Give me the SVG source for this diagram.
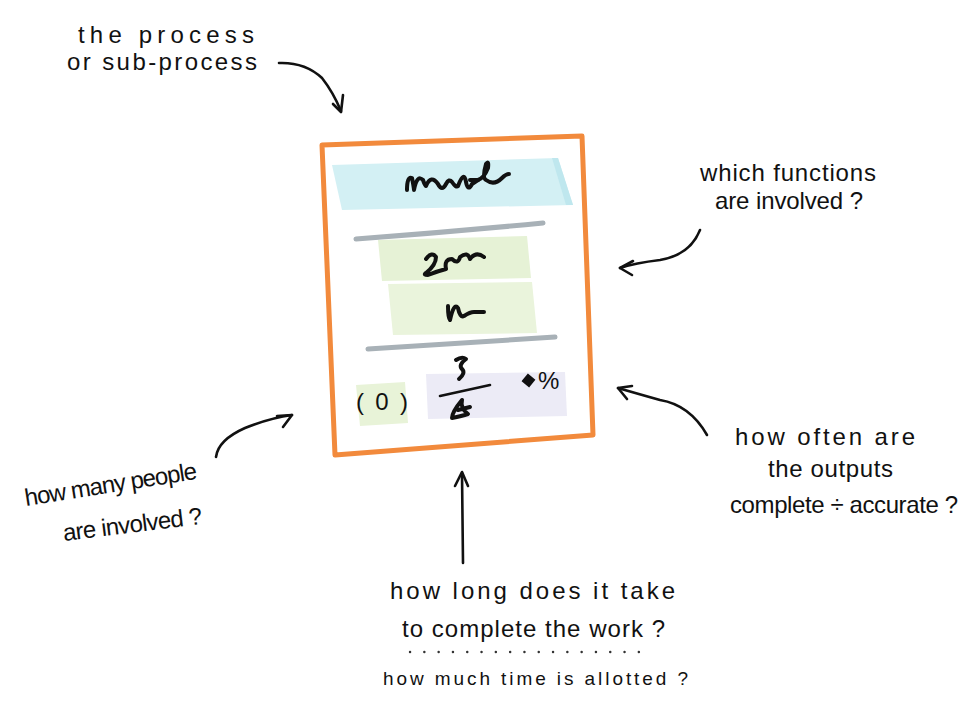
<svg xmlns="http://www.w3.org/2000/svg" width="980" height="703" viewBox="0 0 980 703">
<style>
.t{font-family:"Liberation Sans","DejaVu Sans",sans-serif;font-size:24px;fill:#111;}
.s{font-size:19px;}
.conn{fill:none;stroke:#111;stroke-width:2.6;stroke-linecap:round;stroke-linejoin:round;}
.scr{fill:none;stroke:#111;stroke-width:4;stroke-linecap:round;stroke-linejoin:round;}
.rule{fill:none;stroke:#a8b1b7;stroke-width:5;stroke-linecap:round;}
</style>
<rect width="980" height="703" fill="#fff"/>

<g id="card">
  <path d="M322,145 L582,136 L593,435 L335,455 Z" fill="#fff" stroke="#f28a3c" stroke-width="5" stroke-linejoin="round"/>
  <path d="M332,165 L558,158 L573,205 L342,210 Z" fill="#d3f0f4"/>
  <path d="M552,158 L558,158 L573,205 L566,205 Z" fill="#bfe7ee"/>
  <path d="M407,190 q0,-14 5,-12 q2,10 2,12 q3,-16 9,-10 q2,6 3,6 q5,-12 12,-2 q4,8 8,0 q3,-6 6,-2 q4,6 6,4 q6,-16 8,-4 q2,10 6,2 l6,-4 q6,-2 10,-12 q1,-8 -2,-4 q-4,14 0,16 q8,6 16,-2 q4,-4 7,-4" class="scr"/>
  <path d="M470,180 l8,0" class="scr"/>
  <path d="M356,239 Q450,232 543,223" class="rule"/>
  <path d="M378,240 L527,236 L531,278 L382,281 Z" fill="#e6f2d6"/>
  <path d="M388,284 L532,282 L537,333 L393,335 Z" fill="#eaf4dc"/>
  <path d="M426,259 q6,-8 10,-2 q0,8 -10,16 q-3,2 2,2 q10,-4 18,-6 q-2,-10 6,-10 q6,6 8,-2 q8,-6 10,2 q6,-8 14,-2" class="scr"/>
  <path d="M448,306 q0,12 2,14 q4,-18 8,-12 q2,10 6,8 q6,-4 10,-4 l10,0" class="scr"/>
  <path d="M368,349 Q460,343 555,337" class="rule"/>
  <path d="M356,385 L405,382 L408,423 L360,426 Z" fill="#e8f3d8"/>
  <path d="M426,374 L565,372 L567,416 L428,419 Z" fill="#ecebf6"/>
  <text class="t" x="356" y="410" font-size="27" textLength="52" lengthAdjust="spacing">(0)</text>
  <path d="M456,360 q6,-4 10,-1 q-8,6 -4,10 q4,4 -3,10" class="scr"/>
  <path d="M440,396 L490,385" class="conn" stroke-width="3"/>
  <path d="M462,400 q-10,12 -10,18 q10,-2 16,-4 q-8,-6 -6,-14 M458,410 l12,-3" class="scr"/>
  <path d="M523,381 l5,-6 l6,5 l-5,6 z" fill="#111" stroke="#111" stroke-width="2"/>
  <text class="t" x="538" y="389" font-size="17">%</text>
</g>

<g id="label-process">
  <text class="t" x="78" y="43" textLength="176" lengthAdjust="spacing">the   process</text>
  <text class="t" x="67" y="70" textLength="190" lengthAdjust="spacing">or  sub-process</text>
</g>
<g id="label-functions">
  <text class="t" x="700" y="181" textLength="176" lengthAdjust="spacing">which  functions</text>
  <text class="t" x="715" y="209" textLength="148" lengthAdjust="spacing">are  involved ?</text>
</g>
<g id="label-people">
  <text class="t" x="26" y="506" textLength="174" lengthAdjust="spacing" transform="rotate(-9 26 506)">how many people</text>
  <text class="t" x="64" y="541" textLength="140" lengthAdjust="spacing" transform="rotate(-7 64 541)">are involved ?</text>
</g>
<g id="label-outputs">
  <text class="t" x="735" y="445" textLength="180" lengthAdjust="spacing">how  often  are</text>
  <text class="t" x="768" y="477" textLength="125" lengthAdjust="spacing">the  outputs</text>
  <text class="t" x="730" y="513" textLength="228" lengthAdjust="spacing">complete  ÷ accurate  ?</text>
</g>
<g id="label-time">
  <text class="t" x="390" y="599" textLength="285" lengthAdjust="spacing">how  long  does  it  take</text>
  <text class="t" x="402" y="637" textLength="263" lengthAdjust="spacing">to  complete  the  work ?</text>
  <line x1="410" y1="652" x2="652" y2="652" stroke="#333" stroke-width="2.4" stroke-dasharray="0.1 14.2" stroke-linecap="round"/>
  <text class="t s" x="383" y="685" textLength="305" lengthAdjust="spacing">how  much  time  is   allotted  ?</text>
</g>

<g id="connectors">
  <path class="conn" d="M279,63 Q305,62 322,78 Q333,92 341,111"/>
  <path class="conn" d="M333,104 L341,112 L343,95"/>
  <path class="conn" d="M700,230 Q690,255 660,260 Q635,263 620,268"/>
  <path class="conn" d="M633,261 L620,268 L632,275"/>
  <path class="conn" d="M216,457 Q218,440 245,428 Q270,418 292,415"/>
  <path class="conn" d="M277,416 L292,415 L283,427"/>
  <path class="conn" d="M707,435 Q690,405 660,400 Q635,393 618,388"/>
  <path class="conn" d="M632,386 L618,388 L627,399"/>
  <path class="conn" d="M463,563 L462,473"/>
  <path class="conn" d="M455,486 L462,472 L468,486"/>
</g>
</svg>
